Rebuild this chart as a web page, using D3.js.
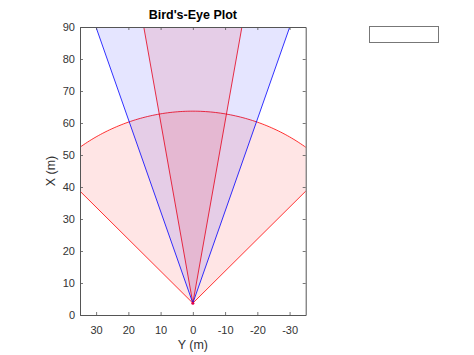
<!DOCTYPE html>
<html>
<head>
<meta charset="utf-8">
<script src="https://cdn.jsdelivr.net/npm/d3@7"></script>
<style>
  body { margin: 0; background: #fff; }
  text { font-family: "Liberation Sans", Arial, Helvetica, sans-serif; }
</style>
</head>
<body>
<svg id="chart" width="474" height="355"></svg>
<script>
// ---- data ----
const sensorNames = ["Short-range radar", "Long-range radar", "Vision"];
const sensorPosX = [3.7, 3.7, 3.7];     // m, forward
const sensorPosY = [0, 0, 0];           // m, lateral
const sensorFOV = [90, 20, 38.4];       // degrees
const sensorRange = [60, 150, 150];     // m
const xTicks = [0, 10, 20, 30, 40, 50, 60, 70, 80, 90];
const yTicks = [30, 20, 10, 0, -10, -20, -30];
const xLimits = [0, 90];
const yLimits = [35, -35];

// ---- styles ----
const sensorColors = ["#ff0000", "#ff0000", "#0000ff"];
const axisColor = "#555555";
const textColor = "#333333";
const plotL = 80, plotR = 305.7, plotT = 27, plotB = 315;

const svg = d3.select("#chart");
const sx = d3.scaleLinear().domain(yLimits).range([plotL, plotR]);   // lateral Y -> horizontal
const sy = d3.scaleLinear().domain(xLimits).range([plotB, plotT]);   // forward X -> vertical

svg.append("defs").append("clipPath").attr("id", "clip")
  .append("rect").attr("x", plotL).attr("y", plotT)
  .attr("width", plotR - plotL).attr("height", plotB - plotT);

const g = svg.append("g").attr("clip-path", "url(#clip)");

sensorNames.forEach((name, i) => {
  const half = sensorFOV[i] / 2 * Math.PI / 180;
  const pts = [[sensorPosX[i], sensorPosY[i]]];
  const n = 120;
  for (let k = 0; k <= n; k++) {
    const a = -half + 2 * half * k / n;
    pts.push([sensorPosX[i] + sensorRange[i] * Math.cos(a),
              sensorPosY[i] + sensorRange[i] * Math.sin(a)]);
  }
  const line = d3.line().x(d => sx(d[1])).y(d => sy(d[0]));
  g.append("path")
    .attr("d", line(pts) + "Z")
    .attr("fill", sensorColors[i])
    .attr("fill-opacity", 0.1)
    .attr("stroke", sensorColors[i])
    .attr("stroke-opacity", 0.8)
    .attr("stroke-width", 1)
    .attr("stroke-linejoin", "round");
});

// sensor origin marker
g.append("circle")
  .attr("cx", sx(sensorPosY[0])).attr("cy", sy(sensorPosX[0]))
  .attr("r", 1.5).attr("fill", "#e0004a");

// ---- axes ----
const tickLen = 3;
const fmt = d => String(d);
const axB = d3.axisBottom(sx).tickValues(yTicks).tickSize(-tickLen).tickSizeOuter(0).tickFormat(fmt);
const axT = d3.axisTop(sx).tickValues(yTicks).tickSize(-tickLen).tickSizeOuter(0).tickFormat("");
const axL = d3.axisLeft(sy).tickValues(xTicks).tickSize(-tickLen).tickSizeOuter(0).tickFormat(fmt);
const axR = d3.axisRight(sy).tickValues(xTicks).tickSize(-tickLen).tickSizeOuter(0).tickFormat("");

function style(sel) {
  sel.selectAll("path").attr("stroke", axisColor).attr("stroke-width", 1);
  sel.selectAll("line").attr("stroke", axisColor).attr("stroke-width", 0.8);
  sel.selectAll("text").attr("fill", textColor).attr("font-size", 11)
    .attr("font-family", '"Liberation Sans", Arial, sans-serif');
}
svg.append("g").attr("transform", `translate(0,${plotB})`).call(axB).call(style)
  .selectAll("text").attr("dy", "1.45em");
svg.append("g").attr("transform", `translate(0,${plotT})`).call(axT).call(style);
svg.append("g").attr("transform", `translate(${plotL},0)`).call(axL).call(style)
  .selectAll("text").attr("x", -5);
svg.append("g").attr("transform", `translate(${plotR},0)`).call(axR).call(style);

// labels
svg.append("text").attr("x", (plotL + plotR) / 2).attr("y", 19)
  .attr("text-anchor", "middle").attr("font-size", 12.5).attr("font-weight", "bold")
  .attr("fill", "#000").text("Bird's-Eye Plot");
svg.append("text").attr("x", sx(0)).attr("y", 349)
  .attr("text-anchor", "middle").attr("font-size", 12.5).attr("fill", textColor).text("Y (m)");
svg.append("text").attr("transform", `translate(55,${(plotT + plotB) / 2}) rotate(-90)`)
  .attr("text-anchor", "middle").attr("font-size", 12.5).attr("fill", textColor).text("X (m)");

// empty legend box
svg.append("rect").attr("x", 369.5).attr("y", 26.5).attr("width", 69).attr("height", 16)
  .attr("fill", "#fff").attr("stroke", "#777").attr("stroke-width", 1);
</script>
</body>
</html>
